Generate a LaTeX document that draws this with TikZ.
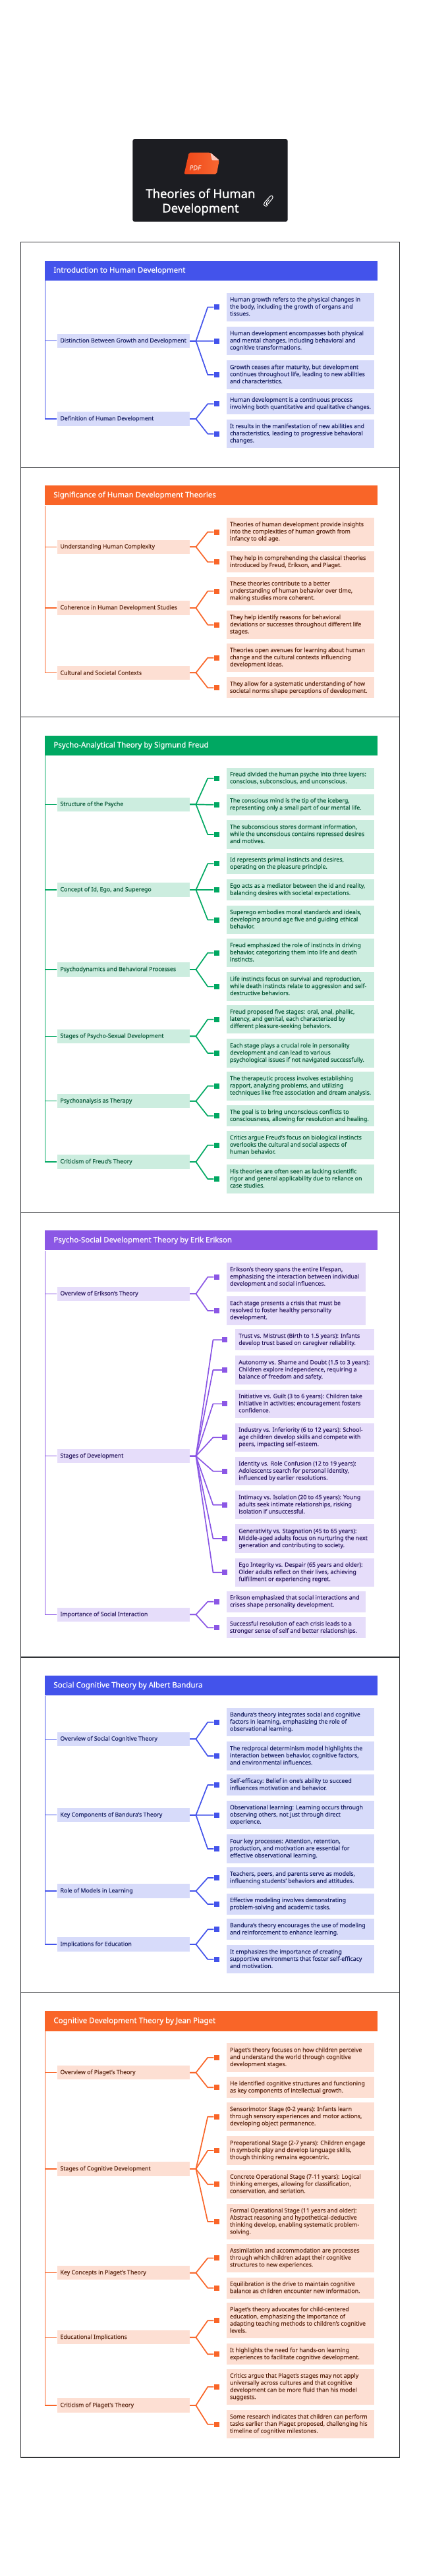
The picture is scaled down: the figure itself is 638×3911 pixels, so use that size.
\documentclass[tikz,border=0pt]{standalone}
\usepackage{fontspec}
\setmainfont[FakeBold=0.2]{Noto Sans}
\newfontfamily\titlefont[FakeBold=1.2]{Noto Sans}
\newfontfamily\headfont[FakeBold=0.5]{Noto Sans}
\usetikzlibrary{calc}
\definecolor{frameink}{HTML}{333538}
\definecolor{bluemain}{HTML}{4353EB}\definecolor{bluesoft}{HTML}{D7DBFA}\definecolor{blueink}{HTML}{1F2768}
\definecolor{orgmain}{HTML}{F96528}\definecolor{orgsoft}{HTML}{FDDFD3}\definecolor{orgink}{HTML}{5E2A16}
\definecolor{grnmain}{HTML}{00A862}\definecolor{grnsoft}{HTML}{CCEDDF}\definecolor{grnink}{HTML}{0B5A3A}
\definecolor{purmain}{HTML}{8B57E5}\definecolor{pursoft}{HTML}{E6DDFA}\definecolor{purink}{HTML}{2F1E63}
\tikzset{
  framestyle/.style={draw=frameink,line width=1.3pt},
  headstyle/.style={fill=main,text=white,inner sep=0pt,font=\fontsize{11.5}{13}\headfont,minimum width=504.5pt},
  substyle/.style={fill=soft,text=ink,inner sep=0pt,font=\fontsize{8.8}{10.8}\selectfont,minimum width=201.4pt,minimum height=21.4pt},
  leafstyle/.style={fill=soft,text=ink,inner sep=0pt,font=\fontsize{8.8}{10.8}\selectfont},
  markstyle/.style={fill=main,inner sep=0pt,minimum size=8pt},
  conn/.style={draw=main,line width=1.7pt,line join=round},
  rail/.style={draw=main,line width=1.3pt,line join=miter}
}
\newcommand{\theme}[3]{\colorlet{main}{#1}\colorlet{soft}{#2}\colorlet{ink}{#3}}
\newcommand{\headbox}[4]{\node[headstyle,minimum height={#3-#2}] (#1) at (320.55,{(#2+#3)/2}) {\hbox to 478.3pt{#4\hss}};}
\newcommand{\subbox}[3]{\node[substyle] (#1) at (187.3,#2) {\hbox to 191.6pt{#3\hss}};}
\newcommand{\leafat}[9]{%
  \pgfmathsetlengthmacro\lw{#4-#3-10.4}%
  \node[leafstyle,minimum width={#4-#3},minimum height={#8-#7}] (#2) at ({(#3+#4)/2},{(#7+#8)/2}) {\hbox to \lw{\begin{tabular}{@{}l@{}}#9\end{tabular}\hss}};%
  \node[markstyle] (#2m) at (#5,0 |- #2) {};%
  \draw[conn] (#1.east) -- (jx |- #1.east) -- (#6 |- #2m) -- (#2m.west);%
}
\newcommand{\leafbox}[5]{\leafat{#1}{#2}{343.8}{568.3}{328.6}{ex}{#3}{#4}{#5}}
\newcommand{\leafnarrow}[5]{\leafat{#1}{#2}{343.8}{555.3}{328.6}{ex}{#3}{#4}{#5}}
\newcommand{\leafstage}[5]{\leafat{#1}{#2}{357.1}{568.3}{341.3}{exb}{#3}{#4}{#5}}
\newcommand{\railto}[3]{%
  \draw[rail] (tx |- #1.south) -- (tx |- #2) -- (#2.west);%
  \foreach \q in {#3} {\draw[rail] (tx |- \q) -- (\q.west);}%
}
\begin{document}
\begin{tikzpicture}[x=1pt,y=-1pt]
\useasboundingbox (0,0) rectangle (638,3911);
\fill[white] (0,0) rectangle (638,3911);
\coordinate (tx) at (68.7,0);
\coordinate (jx) at (297.4,0);
\coordinate (ex) at (315.3,0);
\coordinate (exb) at (323.4,0);
% title card
\fill[rounded corners=3pt,fill={rgb,255:red,28;green,29;blue,34}] (201.4,211) rectangle (436.6,336.7);
\shade[left color={rgb,255:red,238;green,70;blue,24},right color={rgb,255:red,248;green,104;blue,50},rounded corners=2pt]
  (286.8,231.7) -- (319.3,231.7) -- (332.8,243.3) -- (328.8,264.3) -- (279.5,264.3) -- cycle;
\fill[rounded corners=0.8pt,fill={rgb,255:red,250;green,200;blue,190}] (319.3,231.7) -- (332.8,243.3) -- (321.8,243.3) -- cycle;
\node[text={rgb,255:red,250;green,205;blue,190},inner sep=0pt,font=\fontsize{10}{12}\selectfont\itshape] (pdflabel) at (296.2,254.7) {PDF};
\node[text=white,inner sep=0pt,align=center,font=\fontsize{18.45}{22}\titlefont] (title) at (304.4,306.8) {Theories of Human\\Development};
\begin{scope}[xshift=-2pt]
\draw[white,line width=1pt,line cap=round] (410.5,303) -- (406.5,308) .. controls (405,310) and (407,311.5) .. (408.5,310) -- (415,302) .. controls (418,298.5) and (414.5,295) .. (411.5,298.5) -- (403.5,307.5) .. controls (400.5,311.5) and (405,315) .. (408.5,312);
\end{scope}
% frame
\draw[framestyle] (31.3,367.7) rectangle (606.2,3731);
\foreach \yy in {709.3,1088.3,1840.3,2516,3025.7} {\draw[framestyle] (31.3,\yy) -- (606.2,\yy);}
% ---------- section 1
\theme{bluemain}{bluesoft}{blueink}
\headbox{hA}{395.7}{426}{Introduction to Human Development}
\subbox{a1}{517.7}{Distinction Between Growth and Development}
\subbox{a2}{636}{Definition of Human Development}
\railto{hA}{a2}{a1}
\leafbox{a1}{a11}{444.7}{488}{Human growth refers to the physical changes in\\the body, including the growth of organs and\\tissues.}
\leafbox{a1}{a12}{496}{539.3}{Human development encompasses both physical\\and mental changes, including behavioral and\\cognitive transformations.}
\leafbox{a1}{a13}{547.3}{590.7}{Growth ceases after maturity, but development\\continues throughout life, leading to new abilities\\and characteristics.}
\leafbox{a2}{a21}{597}{629.3}{Human development is a continuous process\\involving both quantitative and qualitative changes.}
\leafbox{a2}{a22}{637}{680.3}{It results in the manifestation of new abilities and\\characteristics, leading to progressive behavioral\\changes.}
% ---------- section 2
\theme{orgmain}{orgsoft}{orgink}
\headbox{hB}{737}{767.3}{Significance of Human Development Theories}
\subbox{b1}{830.3}{Understanding Human Complexity}
\subbox{b2}{923}{Coherence in Human Development Studies}
\subbox{b3}{1021.3}{Cultural and Societal Contexts}
\railto{hB}{b3}{b1,b2}
\leafbox{b1}{b11}{786}{829.3}{Theories of human development provide insights\\into the complexities of human growth from\\infancy to old age.}
\leafbox{b1}{b12}{837.3}{869.3}{They help in comprehending the classical theories\\introduced by Freud, Erikson, and Piaget.}
\leafbox{b2}{b21}{876}{919}{These theories contribute to a better\\understanding of human behavior over time,\\making studies more coherent.}
\leafbox{b2}{b22}{927}{970.3}{They help identify reasons for behavioral\\deviations or successes throughout different life\\stages.}
\leafbox{b3}{b31}{977}{1020.3}{Theories open avenues for learning about human\\change and the cultural contexts influencing\\development ideas.}
\leafbox{b3}{b32}{1028.3}{1060.3}{They allow for a systematic understanding of how\\societal norms shape perceptions of development.}
% ---------- section 3
\theme{grnmain}{grnsoft}{grnink}
\headbox{hC}{1116.7}{1147}{Psycho-Analytical Theory by Sigmund Freud}
\subbox{c1}{1221.3}{Structure of the Psyche}
\subbox{c2}{1351}{Concept of Id, Ego, and Superego}
\subbox{c3}{1472}{Psychodynamics and Behavioral Processes}
\subbox{c4}{1573.3}{Stages of Psycho-Sexual Development}
\subbox{c5}{1671.7}{Psychoanalysis as Therapy}
\subbox{c6}{1764}{Criticism of Freud’s Theory}
\railto{hC}{c6}{c1,c2,c3,c4,c5}
\leafbox{c1}{c11}{1165.7}{1197.7}{Freud divided the human psyche into three layers:\\conscious, subconscious, and unconscious.}
\leafbox{c1}{c12}{1205.7}{1237.7}{The conscious mind is the tip of the iceberg,\\representing only a small part of our mental life.}
\leafbox{c1}{c13}{1245.3}{1288.7}{The subconscious stores dormant information,\\while the unconscious contains repressed desires\\and motives.}
\leafbox{c2}{c21}{1295.3}{1327.3}{Id represents primal instincts and desires,\\operating on the pleasure principle.}
\leafbox{c2}{c22}{1335}{1367}{Ego acts as a mediator between the id and reality,\\balancing desires with societal expectations.}
\leafbox{c2}{c23}{1375}{1418}{Superego embodies moral standards and ideals,\\developing around age five and guiding ethical\\behavior.}
\leafbox{c3}{c31}{1425}{1468.3}{Freud emphasized the role of instincts in driving\\behavior, categorizing them into life and death\\instincts.}
\leafbox{c3}{c32}{1476}{1519.7}{Life instincts focus on survival and reproduction,\\while death instincts relate to aggression and self-\\destructive behaviors.}
\leafbox{c4}{c41}{1526}{1569.3}{Freud proposed five stages: oral, anal, phallic,\\latency, and genital, each characterized by\\different pleasure-seeking behaviors.}
\leafbox{c4}{c42}{1577.3}{1620.7}{Each stage plays a crucial role in personality\\development and can lead to various\\psychological issues if not navigated successfully.}
\leafbox{c5}{c51}{1627}{1670.7}{The therapeutic process involves establishing\\rapport, analyzing problems, and utilizing\\techniques like free association and dream analysis.}
\leafbox{c5}{c52}{1678.3}{1710.3}{The goal is to bring unconscious conflicts to\\consciousness, allowing for resolution and healing.}
\leafbox{c6}{c61}{1717}{1760.3}{Critics argue Freud’s focus on biological instincts\\overlooks the cultural and social aspects of\\human behavior.}
\leafbox{c6}{c62}{1768.3}{1811.7}{His theories are often seen as lacking scientific\\rigor and general applicability due to reliance on\\case studies.}
% ---------- section 4
\theme{purmain}{pursoft}{purink}
\headbox{hD}{1868.3}{1898.3}{Psycho-Social Development Theory by Erik Erikson}
\subbox{d1}{1964.3}{Overview of Erikson’s Theory}
\subbox{d2}{2210.7}{Stages of Development}
\subbox{d3}{2451.3}{Importance of Social Interaction}
\railto{hD}{d3}{d1,d2}
\leafnarrow{d1}{d11}{1917}{1960.7}{Erikson’s theory spans the entire lifespan,\\emphasizing the interaction between individual\\development and social influences.}
\leafnarrow{d1}{d12}{1968.3}{2011.7}{Each stage presents a crisis that must be\\resolved to foster healthy personality\\development.}
\leafstage{d2}{d21}{2018.3}{2050.3}{Trust vs. Mistrust (Birth to 1.5 years): Infants\\develop trust based on caregiver reliability.}
\leafstage{d2}{d22}{2058.3}{2101.7}{Autonomy vs. Shame and Doubt (1.5 to 3 years):\\Children explore independence, requiring a\\balance of freedom and safety.}
\leafstage{d2}{d23}{2109.7}{2153}{Initiative vs. Guilt (3 to 6 years): Children take\\initiative in activities; encouragement fosters\\confidence.}
\leafstage{d2}{d24}{2160.7}{2204}{Industry vs. Inferiority (6 to 12 years): School-\\age children develop skills and compete with\\peers, impacting self-esteem.}
\leafstage{d2}{d25}{2212}{2255.3}{Identity vs. Role Confusion (12 to 19 years):\\Adolescents search for personal identity,\\influenced by earlier resolutions.}
\leafstage{d2}{d26}{2263.3}{2306.3}{Intimacy vs. Isolation (20 to 45 years): Young\\adults seek intimate relationships, risking\\isolation if unsuccessful.}
\leafstage{d2}{d27}{2314.3}{2357.7}{Generativity vs. Stagnation (45 to 65 years):\\Middle-aged adults focus on nurturing the next\\generation and contributing to society.}
\leafstage{d2}{d28}{2365.7}{2409}{Ego Integrity vs. Despair (65 years and older):\\Older adults reflect on their lives, achieving\\fulfillment or experiencing regret.}
\leafnarrow{d3}{d31}{2415.7}{2447.7}{Erikson emphasized that social interactions and\\crises shape personality development.}
\leafnarrow{d3}{d32}{2455.3}{2487.3}{Successful resolution of each crisis leads to a\\stronger sense of self and better relationships.}
% ---------- section 5
\theme{bluemain}{bluesoft}{blueink}
\headbox{hE}{2544}{2574.3}{Social Cognitive Theory by Albert Bandura}
\subbox{e1}{2640.3}{Overview of Social Cognitive Theory}
\subbox{e2}{2755.7}{Key Components of Bandura’s Theory}
\subbox{e3}{2871}{Role of Models in Learning}
\subbox{e4}{2952}{Implications for Education}
\railto{hE}{e4}{e1,e2,e3}
\leafbox{e1}{e11}{2593}{2636.3}{Bandura’s theory integrates social and cognitive\\factors in learning, emphasizing the role of\\observational learning.}
\leafbox{e1}{e12}{2644.3}{2687.7}{The reciprocal determinism model highlights the\\interaction between behavior, cognitive factors,\\and environmental influences.}
\leafbox{e2}{e21}{2694}{2726}{Self-efficacy: Belief in one’s ability to succeed\\influences motivation and behavior.}
\leafbox{e2}{e22}{2734}{2777.3}{Observational learning: Learning occurs through\\observing others, not just through direct\\experience.}
\leafbox{e2}{e23}{2785.3}{2828.7}{Four key processes: Attention, retention,\\production, and motivation are essential for\\effective observational learning.}
\leafbox{e3}{e31}{2835}{2867}{Teachers, peers, and parents serve as models,\\influencing students’ behaviors and attitudes.}
\leafbox{e3}{e32}{2875}{2907}{Effective modeling involves demonstrating\\problem-solving and academic tasks.}
\leafbox{e4}{e41}{2913.3}{2945.3}{Bandura’s theory encourages the use of modeling\\and reinforcement to enhance learning.}
\leafbox{e4}{e42}{2953.3}{2996.3}{It emphasizes the importance of creating\\supportive environments that foster self-efficacy\\and motivation.}
% ---------- section 6
\theme{orgmain}{orgsoft}{orgink}
\headbox{hF}{3053.3}{3083.7}{Cognitive Development Theory by Jean Piaget}
\subbox{f1}{3146.7}{Overview of Piaget’s Theory}
\subbox{f2}{3293}{Stages of Cognitive Development}
\subbox{f3}{3450.7}{Key Concepts in Piaget’s Theory}
\subbox{f4}{3548.7}{Educational Implications}
\subbox{f5}{3652}{Criticism of Piaget’s Theory}
\railto{hF}{f5}{f1,f2,f3,f4}
\leafbox{f1}{f11}{3102}{3145.7}{Piaget’s theory focuses on how children perceive\\and understand the world through cognitive\\development stages.}
\leafbox{f1}{f12}{3153.3}{3185.3}{He identified cognitive structures and functioning\\as key components of intellectual growth.}
\leafbox{f2}{f21}{3192}{3235.3}{Sensorimotor Stage (0-2 years): Infants learn\\through sensory experiences and motor actions,\\developing object permanence.}
\leafbox{f2}{f22}{3243.3}{3286.7}{Preoperational Stage (2-7 years): Children engage\\in symbolic play and develop language skills,\\though thinking remains egocentric.}
\leafbox{f2}{f23}{3294.7}{3338}{Concrete Operational Stage (7-11 years): Logical\\thinking emerges, allowing for classification,\\conservation, and seriation.}
\leafbox{f2}{f24}{3346}{3400}{Formal Operational Stage (11 years and older):\\Abstract reasoning and hypothetical-deductive\\thinking develop, enabling systematic problem-\\solving.}
\leafbox{f3}{f31}{3406.7}{3450}{Assimilation and accommodation are processes\\through which children adapt their cognitive\\structures to new experiences.}
\leafbox{f3}{f32}{3457.7}{3489.7}{Equilibration is the drive to maintain cognitive\\balance as children encounter new information.}
\leafbox{f4}{f41}{3496}{3550.3}{Piaget’s theory advocates for child-centered\\education, emphasizing the importance of\\adapting teaching methods to children’s cognitive\\levels.}
\leafbox{f4}{f42}{3558.3}{3590.3}{It highlights the need for hands-on learning\\experiences to facilitate cognitive development.}
\leafbox{f5}{f51}{3596.7}{3651}{Critics argue that Piaget’s stages may not apply\\universally across cultures and that cognitive\\development can be more fluid than his model\\suggests.}
\leafbox{f5}{f52}{3659}{3702.3}{Some research indicates that children can perform\\tasks earlier than Piaget proposed, challenging his\\timeline of cognitive milestones.}
\end{tikzpicture}
\end{document}
